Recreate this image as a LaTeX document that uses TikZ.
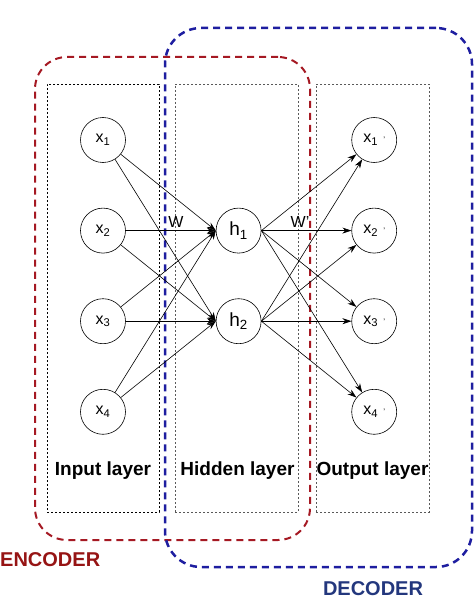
\documentclass[tikz,border=0pt]{standalone}
\usepackage{fontspec}
\setmainfont{Liberation Sans}
\usetikzlibrary{arrows.meta, positioning}

\definecolor{encred}{RGB}{165,25,35}
\definecolor{decblue}{RGB}{30,30,160}
\definecolor{enctext}{RGB}{150,20,20}
\definecolor{dectext}{RGB}{35,55,125}

\newcommand{\outlbl}[1]{x\textsubscript{#1}\,\,{\footnotesize'}}

\begin{document}
\begin{tikzpicture}[
  x=1pt, y=-1pt,
  neuron/.style={circle, draw, line width=0.6pt, minimum size=45pt, inner sep=0pt,
                 fill=white, font=\fontsize{16}{18}\selectfont},
  hnode/.style={neuron, font=\fontsize{19}{22}\selectfont},
  layerbox/.style={rectangle, draw=black!65, line width=0.8pt, dash pattern=on 2pt off 2pt,
                   minimum height=428pt, inner sep=0pt},
  groupbox/.style={rectangle, line width=2pt, dash pattern=on 7pt off 5pt, inner sep=0pt},
  laylbl/.style={font=\fontsize{19}{22}\selectfont\bfseries, anchor=base},
  grplbl/.style={font=\fontsize{20}{24}\selectfont\bfseries, inner sep=0pt},
  wlbl/.style={font=\fontsize{16}{18}\selectfont, inner sep=1pt},
  arrow/.style={-{Stealth[length=9pt, width=6pt]}, line width=0.6pt},
]
\useasboundingbox (0,0) rectangle (474,599);

% ---- layers ----
\node[layerbox, draw=black, minimum width=112pt] (inbox)  at (103,298)   {};
\node[layerbox, minimum width=123pt]             (hidbox) at (236.5,298) {};
\node[layerbox, minimum width=113pt]             (outbox) at (372.5,298) {};

% ---- encoder / decoder ----
\node[groupbox, draw=encred, rounded corners=32pt,
      minimum width=275pt, minimum height=483pt] (enc) at (172.5,298.5) {};
\node[groupbox, draw=decblue, line width=2.5pt, rounded corners=36pt,
      minimum width=307pt, minimum height=539pt] (dec) at (318.5,297.5) {};

\node[grplbl, text=enctext, anchor=west] (enclbl) at (0,560) {ENCODER};
\node[grplbl, text=dectext] (declbl) at (373,589) {DECODER};

% ---- neurons ----
\node[neuron] (x1) at (103,140) {x\textsubscript{1}};
\node[neuron, below=45pt of x1] (x2) {x\textsubscript{2}};
\node[neuron, below=45pt of x2] (x3) {x\textsubscript{3}};
\node[neuron, below=45pt of x3] (x4) {x\textsubscript{4}};

\node[hnode, right=90pt of x2] (h1) {h\textsubscript{1}};
\node[hnode, below=45pt of h1]  (h2) {h\textsubscript{2}};

\node[neuron, right=90pt of h1] (y2) {\outlbl{2}};
\node[neuron, above=45pt of y2] (y1) {\outlbl{1}};
\node[neuron, below=45pt of y2] (y3) {\outlbl{3}};
\node[neuron, below=45pt of y3] (y4) {\outlbl{4}};

% ---- weights ----
\foreach \i in {1,...,4}
  \foreach \j in {1,2}
    \draw[arrow] (x\i) -- (h\j.west);
\foreach \j in {1,2}
  \foreach \k in {1,...,4}
    \draw[arrow] (h\j.east) -- (y\k);

\node[wlbl] (wenc) at (176,222) {W};
\node[wlbl] (wdec) at (300,222) {W'};

% ---- labels ----
\node[laylbl] (inlbl)  at (103,475)   {Input layer};
\node[laylbl] (hidlbl) at (237.5,475) {Hidden layer};
\node[laylbl] (outlbl) at (372.5,475) {Output layer};

\end{tikzpicture}
\end{document}
